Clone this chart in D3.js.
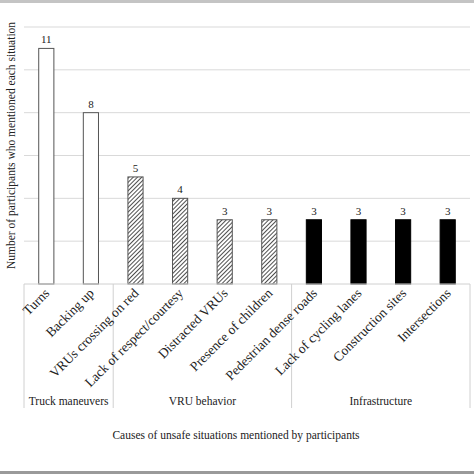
<!DOCTYPE html>
<html><head><meta charset="utf-8">
<script src="https://cdn.jsdelivr.net/npm/d3@7"></script>
<style>body{margin:0;background:#fff}text{font-family:"Liberation Serif",serif;fill:#222}</style>
</head><body><svg id="c" width="474" height="474"></svg>
<script>
// DATA
var categories = ['Turns', 'Backing up', 'VRUs crossing on red', 'Lack of respect/courtesy',
    'Distracted VRUs', 'Presence of children', 'Pedestrian dense roads',
    'Lack of cycling lanes', 'Construction sites', 'Intersections'];
var counts = [11, 8, 5, 4, 3, 3, 3, 3, 3, 3];
var groups = ['Truck maneuvers', 'VRU behavior', 'VRU behavior', 'VRU behavior', 'VRU behavior',
    'VRU behavior', 'Infrastructure', 'Infrastructure', 'Infrastructure', 'Infrastructure'];
groups[1] = 'Truck maneuvers';
var groupNames = ['Truck maneuvers', 'VRU behavior', 'Infrastructure'];
var groupSpan = [[0, 2], [2, 6], [6, 10]];
var yTicks = [0, 2, 4, 6, 8, 10, 12];

var svg = d3.select('#c');
var plotLeft = 24, plotRight = 470, plotTop = 27, base = 284;

svg.append('rect').attr('x', 0).attr('y', 0).attr('width', 474).attr('height', 3).attr('fill', '#c4c4c4');
svg.append('rect').attr('x', 0).attr('y', 471).attr('width', 474).attr('height', 3).attr('fill', '#9a9a9a');

var defs = svg.append('defs');
var pat = defs.append('pattern').attr('id', 'hatch').attr('patternUnits', 'userSpaceOnUse')
    .attr('width', 3).attr('height', 3).attr('patternTransform', 'rotate(45)');
pat.append('rect').attr('width', 3).attr('height', 3).attr('fill', '#fff');
pat.append('line').attr('x1', 0).attr('y1', 0).attr('x2', 0).attr('y2', 3)
    .attr('stroke', '#222').attr('stroke-width', 1.6);

var x = d3.scaleBand().domain(d3.range(categories.length)).range([plotLeft, plotRight]).paddingInner(0.66).paddingOuter(0.33);
var y = d3.scaleLinear().domain([0, 12]).range([base, plotTop]);

// gridlines
svg.append('g').selectAll('line').data(yTicks.slice(1)).join('line')
    .attr('x1', plotLeft).attr('x2', plotRight).attr('y1', function(d){ return y(d); }).attr('y2', function(d){ return y(d); })
    .attr('stroke', '#d9d9d9').attr('stroke-width', 1);

function fillFor(i) {
    if (groups[i] === 'Truck maneuvers') return '#fff';
    if (groups[i] === 'VRU behavior') return 'url(#hatch)';
    return '#000';
}

svg.append('g').selectAll('rect').data(counts).join('rect')
    .attr('x', function(d, i){ return x(i); }).attr('width', x.bandwidth())
    .attr('y', function(d){ return y(d); }).attr('height', function(d){ return base - y(d); })
    .attr('fill', function(d, i){ return fillFor(i); })
    .attr('stroke', function(d, i){ return groups[i] === 'Infrastructure' ? '#000' : '#555'; })
    .attr('stroke-width', 1);

svg.append('g').selectAll('text').data(counts).join('text')
    .attr('x', function(d, i){ return x(i) + x.bandwidth() / 2; }).attr('y', function(d){ return y(d) - 5; })
    .attr('text-anchor', 'middle').attr('font-size', 11).text(function(d){ return d; });

// axis baseline + group separators
svg.append('line').attr('x1', plotLeft).attr('x2', plotRight).attr('y1', base).attr('y2', base).attr('stroke', '#d0d0d0');
var step = x.step();
var seps = [0, 2, 6, 10].map(function(k){ return plotLeft + k * step; });
svg.append('g').selectAll('line').data(seps).join('line')
    .attr('x1', function(d){ return d; }).attr('x2', function(d){ return d; })
    .attr('y1', base).attr('y2', 408).attr('stroke', '#d0d0d0');

// category labels
svg.append('g').selectAll('text').data(categories).join('text')
    .attr('transform', function(d, i){
        return 'translate(' + (x(i) + x.bandwidth() / 2 + 4) + ',' + (base + 10) + ') rotate(-45)';
    })
    .attr('text-anchor', 'end').attr('font-size', 13.5).text(function(d){ return d; });

// group labels
svg.append('g').selectAll('text').data(groupNames).join('text')
    .attr('x', function(d, i){ return plotLeft + (groupSpan[i][0] + groupSpan[i][1]) / 2 * step; })
    .attr('y', 405).attr('text-anchor', 'middle').attr('font-size', 11.5).text(function(d){ return d; });

// axis titles
svg.append('text').attr('x', 236).attr('y', 439).attr('text-anchor', 'middle').attr('font-size', 11.5)
    .text('Causes of unsafe situations mentioned by participants');
svg.append('text').attr('transform', 'translate(15,' + ((plotTop + base) / 2 - 10) + ') rotate(-90)')
    .attr('text-anchor', 'middle').attr('font-size', 11.5)
    .text('Number of participants who mentioned each situation');
</script></body></html>
